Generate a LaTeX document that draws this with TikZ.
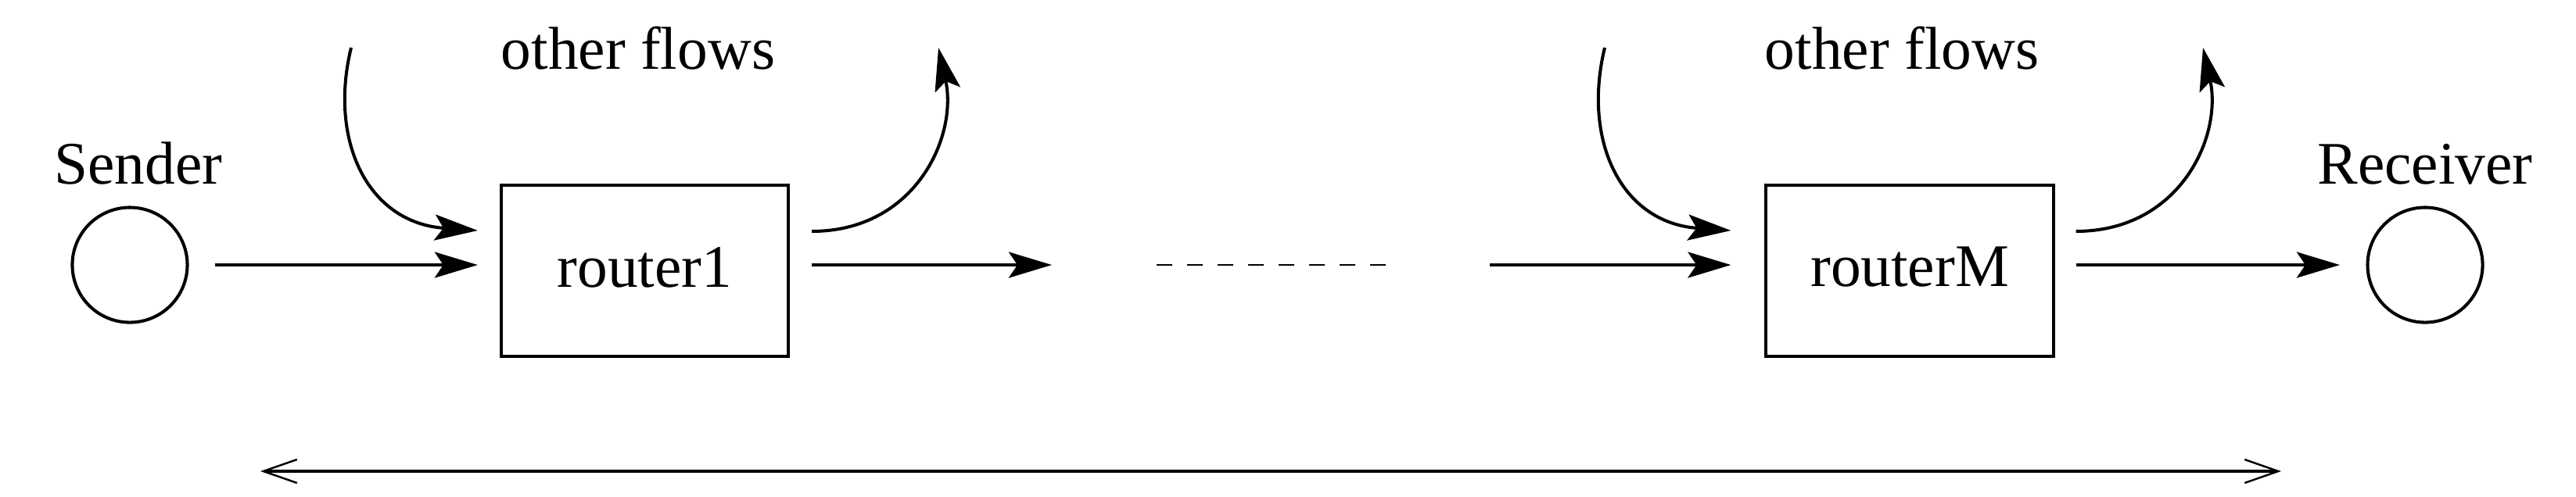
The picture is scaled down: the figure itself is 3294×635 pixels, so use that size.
\documentclass[tikz,border=0pt]{standalone}
\usepackage{fontspec}
\setmainfont{Liberation Serif}
\usetikzlibrary{arrows.meta}
\begin{document}
\begin{tikzpicture}[x=0.01cm,y=-0.01cm,
  lw/.style={line width=1.15pt},
  arr/.style={lw,-{Stealth[length=0.55cm,width=0.33cm,inset=0.11cm]}},
  endpt/.style={circle,draw,lw,minimum size=1.47cm,inner sep=0pt,outer sep=0pt},
  router/.style={draw,lw,minimum width=3.67cm,minimum height=2.19cm,inner sep=0pt,outer sep=0pt,text depth=0.1cm,font=\fontsize{22}{26}\selectfont},
  lbl/.style={anchor=base,inner sep=0pt,font=\fontsize{22}{26}\selectfont},
  dots/.style={line width=0.6pt,dash pattern=on 0.2cm off 0.19cm},
  span/.style={lw,{Straight Barb[length=0.43cm,width=0.3cm,line width=0.7pt]}-{Straight Barb[length=0.43cm,width=0.3cm,line width=0.7pt]}}
]
\useasboundingbox (0,0) rectangle (3294,635);
% nodes
\node[endpt] (snd) at (166,339) {};
\node[endpt] (rcv) at (3101,339) {};
\node[lbl] (sndl) at (177,235) {Sender};
\node[lbl] (rcvl) at (3101,235) {Receiver};
\node[router] (r1) at (824.5,346.5) {router1};
\node[router] (rM) at (2442,346.5) {routerM};
\node[lbl] (of1) at (816,88) {other flows};
\node[lbl] (of2) at (2432,88) {other flows};
% free ends
\coordinate (a1) at (1345,339);
\coordinate (d1) at (1479,339);
\coordinate (d2) at (1773,339);
\coordinate (a2) at (1905,339);
\coordinate (in1) at (449,61);
\coordinate (out1) at (1200,61);
\coordinate (inM) at (2052,61);
\coordinate (outM) at (2817,61);
\coordinate (b1) at (333,603);
\coordinate (b2) at (2917,603);
% straight connectors
\draw[arr] ([xshift=0.355cm]snd.east) -- ([xshift=-0.3cm]snd.east -| r1.west);
\draw[arr] ([xshift=0.3cm]a1 -| r1.east) -- (a1);
\draw[dots] (d1) -- (d2);
\draw[arr] (a2) -- ([xshift=-0.45cm]a2 -| rM.west);
\draw[arr] ([xshift=0.29cm]a2 -| rM.east) -- ([xshift=-0.355cm]rcv.west);
% other flows
\draw[arr] (in1) .. controls (420,180) and (470,285) .. ([xshift=-0.3cm,yshift=0.515cm]r1.west);
\draw[arr] ([xshift=0.3cm,yshift=0.505cm]r1.east) .. controls (1170,296) and (1225,175) .. (out1);
\draw[arr] (inM) .. controls (2023,180) and (2073,285) .. ([xshift=-0.45cm,yshift=0.515cm]rM.west);
\draw[arr] ([xshift=0.29cm,yshift=0.505cm]rM.east) .. controls (2787,296) and (2842,175) .. (outM);
% span
\draw[span] (b1) -- (b2);
\end{tikzpicture}
\end{document}
